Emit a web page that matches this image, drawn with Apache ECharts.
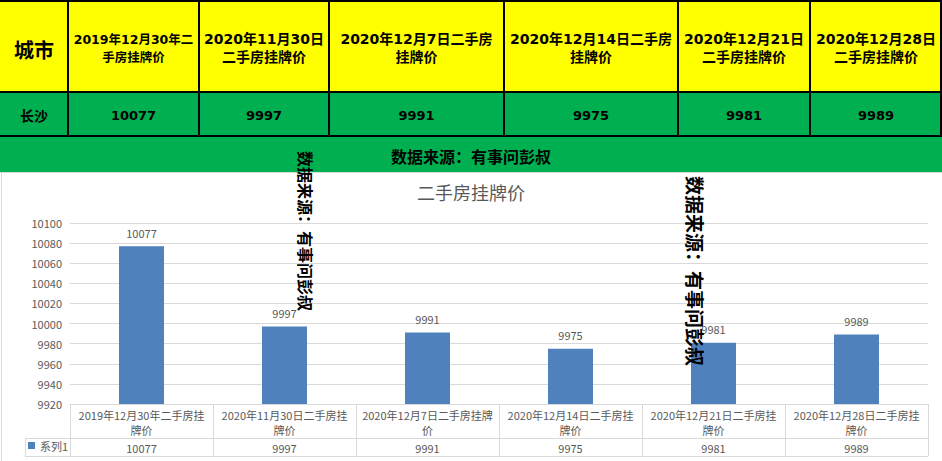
<!DOCTYPE html>
<html>
<head>
<meta charset="utf-8">
<script src="https://cdn.jsdelivr.net/npm/echarts@6/dist/echarts.min.js"></script>
<style>
  html, body { margin: 0; padding: 0; background: #fff; }
  #chart { width: 942px; height: 461px; }
</style>
</head>
<body>
<div id="chart"></div>
<script>
// data
const cityName = "长沙";
const categories = [
  "2019年12月30年二手房挂牌价",
  "2020年11月30日二手房挂牌价",
  "2020年12月7日二手房挂牌价",
  "2020年12月14日二手房挂牌价",
  "2020年12月21日二手房挂牌价",
  "2020年12月28日二手房挂牌价"
];
// header cells of the top table (wrapped as in the sheet)
const headerLabels = [
  "2019年12月30年二\n手房挂牌价",
  "2020年11月30日\n二手房挂牌价",
  "2020年12月7日二手房\n挂牌价",
  "2020年12月14日二手房\n挂牌价",
  "2020年12月21日\n二手房挂牌价",
  "2020年12月28日\n二手房挂牌价"
];
// category labels under the x axis
const axisLabels = [
  "2019年12月30年二手房挂\n牌价",
  "2020年11月30日二手房挂\n牌价",
  "2020年12月7日二手房挂牌\n价",
  "2020年12月14日二手房挂\n牌价",
  "2020年12月21日二手房挂\n牌价",
  "2020年12月28日二手房挂\n牌价"
];
const prices = [10077, 9997, 9991, 9975, 9981, 9989];
const seriesName = "系列1";
const yMin = 9920, yMax = 10100, yStep = 20;
const chartTitle = "二手房挂牌价";
const sourceText = "数据来源：有事问彭叔";

const FONT = "'Noto Sans CJK SC', 'Noto Sans', sans-serif";
const TABLE_FONT = "'DejaVu Sans', 'Noto Sans CJK SC', sans-serif";
const GREEN = "#00b050";
const YELLOW = "#ffff00";

// top table layout
const colEdges = [0, 68, 199, 329, 504, 678, 810, 942];
const headTop = 0, headBottom = 92, rowBottom = 136, bandBottom = 172;

const graphics = [];

function cellText(x, y, text, size, lh, family) {
  return {
    type: "text",
    z: 10,
    style: {
      x: x, y: y, text: text,
      font: "bold " + size + "px " + (family || TABLE_FONT),
      fill: "#000",
      textAlign: "center",
      textVerticalAlign: "middle",
      lineHeight: lh || size + 3
    }
  };
}

// yellow header row + green data row + green source band
graphics.push({ type: "rect", z: 1, shape: { x: 0, y: headTop, width: 942, height: headBottom - headTop }, style: { fill: YELLOW } });
graphics.push({ type: "rect", z: 1, shape: { x: 0, y: headBottom, width: 942, height: rowBottom - headBottom }, style: { fill: GREEN } });
graphics.push({ type: "rect", z: 1, shape: { x: 0, y: rowBottom + 1, width: 942, height: bandBottom - rowBottom - 1 }, style: { fill: GREEN } });

// borders
const black = { stroke: "#000", lineWidth: 2 };
graphics.push({ type: "line", z: 5, shape: { x1: 0, y1: 1, x2: 942, y2: 1 }, style: black });
graphics.push({ type: "line", z: 5, shape: { x1: 0, y1: headBottom, x2: 942, y2: headBottom }, style: black });
graphics.push({ type: "line", z: 5, shape: { x1: 0, y1: rowBottom, x2: 942, y2: rowBottom }, style: black });
colEdges.slice(1, -1).forEach(function (x) {
  graphics.push({ type: "line", z: 5, shape: { x1: x, y1: 0, x2: x, y2: rowBottom }, style: black });
});
graphics.push({ type: "line", z: 5, shape: { x1: 941, y1: 0, x2: 941, y2: rowBottom }, style: black });

// header texts
graphics.push(cellText((colEdges[0] + colEdges[1]) / 2, 49, "城市", 20, 24, FONT));
headerLabels.forEach(function (t, i) {
  const cx = (colEdges[i + 1] + colEdges[i + 2]) / 2;
  graphics.push(cellText(cx, 48, t, i === 0 ? 12.5 : 14, 18));
});
// data row
graphics.push(cellText((colEdges[0] + colEdges[1]) / 2, 115, cityName, 14, 18, FONT));
prices.forEach(function (v, i) {
  const cx = (colEdges[i + 1] + colEdges[i + 2]) / 2;
  graphics.push(cellText(cx, 115, String(v), 13));
});
// source band
graphics.push(cellText(471, 156, sourceText, 16, 20, FONT));

// chart area outline bits
graphics.push({ type: "line", z: 2, shape: { x1: 0, y1: bandBottom + 0.5, x2: 942, y2: bandBottom + 0.5 }, style: { stroke: "#d9d9d9", lineWidth: 1 } });
graphics.push({ type: "line", z: 2, shape: { x1: 1.5, y1: bandBottom, x2: 1.5, y2: 461 }, style: { stroke: "#d9d9d9", lineWidth: 1 } });

// data table under the axis
const tblLine = { stroke: "#d9d9d9", lineWidth: 1 };
graphics.push({ type: "line", z: 2, shape: { x1: 25, y1: 438.5, x2: 70, y2: 438.5 }, style: tblLine });
graphics.push({ type: "line", z: 2, shape: { x1: 25, y1: 456.5, x2: 928, y2: 456.5 }, style: tblLine });
graphics.push({ type: "line", z: 2, shape: { x1: 25.5, y1: 438, x2: 25.5, y2: 457 }, style: tblLine });

// vertical watermarks
graphics.push({
  type: "text", z: 100, x: 306, y: 231, rotation: -Math.PI / 2,
  style: { text: sourceText, font: "bold 16px " + FONT, fill: "#000", textAlign: "center", textVerticalAlign: "middle" }
});
graphics.push({
  type: "text", z: 100, x: 695, y: 271, rotation: -Math.PI / 2,
  style: { text: sourceText, font: "bold 19px " + FONT, fill: "#000", textAlign: "center", textVerticalAlign: "middle" }
});

const option = {
  animation: false,
  backgroundColor: "#fff",
  textStyle: { fontFamily: FONT },
  title: {
    text: chartTitle,
    left: "center",
    top: 183,
    padding: 0,
    textStyle: { fontSize: 18, fontWeight: "normal", color: "#595959", fontFamily: FONT }
  },
  legend: {
    data: [seriesName],
    left: 28,
    top: 440,
    padding: 0,
    icon: "rect",
    itemWidth: 7,
    itemHeight: 7,
    textStyle: { fontSize: 11, color: "#595959", fontFamily: FONT }
  },
  grid: { left: 70, right: 14, top: 223, bottom: 57, containLabel: false },
  xAxis: [
    {
      type: "category",
      data: categories,
      axisLine: { show: true, lineStyle: { color: "#d9d9d9" } },
      axisTick: { show: true, alignWithLabel: false, interval: 0, length: 52, lineStyle: { color: "#d9d9d9" } },
      axisLabel: {
        interval: 0,
        margin: 3,
        fontSize: 11,
        lineHeight: 15,
        color: "#595959",
        formatter: function (v, i) { return axisLabels[i]; }
      }
    },
    {
      type: "category",
      data: categories,
      position: "bottom",
      offset: 34,
      axisLine: { show: true, lineStyle: { color: "#d9d9d9" } },
      axisTick: { show: false },
      axisLabel: {
        interval: 0,
        margin: 4,
        fontSize: 11,
        color: "#595959",
        formatter: function (v, i) { return String(prices[i]); }
      }
    }
  ],
  yAxis: {
    type: "value",
    min: yMin,
    max: yMax,
    interval: yStep,
    axisLine: { show: false },
    axisTick: { show: false },
    axisLabel: {
      fontSize: 11,
      color: "#595959",
      margin: 8,
      formatter: function (v) { return String(v); }
    },
    splitLine: { lineStyle: { color: "#d9d9d9" } }
  },
  series: [
    {
      name: seriesName,
      type: "bar",
      data: prices,
      barWidth: 45,
      itemStyle: { color: "#4f81bd" },
      label: { show: true, position: "top", distance: 8, fontSize: 11, color: "#595959" }
    }
  ],
  graphic: graphics
};

const chart = echarts.init(document.getElementById("chart"), null, { renderer: "svg" });
chart.setOption(option);
</script>
</body>
</html>
